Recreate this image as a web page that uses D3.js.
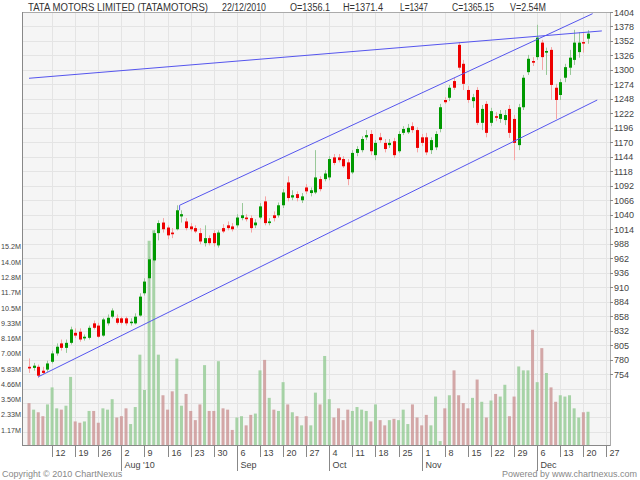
<!DOCTYPE html>
<html><head><meta charset="utf-8">
<script src="https://cdn.jsdelivr.net/npm/d3@7/dist/d3.min.js"></script>
<style>body{margin:0;background:#fff}svg text{font-family:"Liberation Sans",Arial,sans-serif}</style>
</head><body><svg id="c" width="640" height="480"></svg>
<script>
const open =[767,765,767,760,762,776,791,809,801,810,828,830,818,819,845,841,823,845,857,854,854,854,846,845,859,899,926,958,1007,1026,1017,1008,1014,1037,1028,1019,1016,1007,989,998,1007,985,1016,1021,1019,1021,1034,1035,1034,1021,1035,1064,1025,1039,1039,1057,1098,1071,1077,1066,1089,1079,1080,1104,1104,1107,1143,1143,1140,1134,1116,1151,1156,1179,1185,1147,1179,1169,1165,1172,1154,1187,1188,1199,1192,1179,1179,1156,1161,1194,1246,1250,1280,1345,1311,1264,1244,1264,1205,1239,1205,1217,1212,1210,1230,1212,1165,1233,1296,1316,1323,1349,1331,1336,1268,1255,1286,1304,1318,1332,1350,1356.1];
const high =[782,774,771,767,778,796,809,816,816,839,836,836,825,841,850,846,855,861,872,861,857,857,854,863,899,926,965,1012,1030,1034,1021,1016,1057,1048,1034,1025,1021,1016,1021,1003,1012,1012,1023,1028,1025,1041,1061,1041,1039,1032,1061,1073,1034,1046,1062,1086,1109,1084,1082,1079,1095,1089,1156,1109,1120,1145,1149,1149,1145,1140,1156,1163,1181,1192,1192,1174,1187,1176,1176,1178,1190,1199,1203,1206,1197,1185,1187,1179,1190,1239,1251,1273,1286,1350,1318,1271,1257,1269,1237,1244,1232,1224,1228,1228,1237,1219,1239,1291,1327,1323,1381,1354,1340,1341,1275,1284,1311,1336,1372,1368,1367,1371.4];
const low  =[756,760,747,753,758,773,787,796,792,807,819,812,814,816,834,819,821,841,854,843,843,841,841,843,857,895,886,954,994,1008,996,998,1012,1026,1012,1010,1007,987,983,985,983,981,1007,1012,1010,1017,1030,1028,1008,1016,1032,1021,1021,1028,1035,1052,1064,1066,1064,1061,1077,1073,1077,1082,1100,1102,1129,1134,1124,1093,1113,1145,1152,1174,1147,1138,1169,1152,1160,1142,1151,1183,1185,1187,1152,1163,1147,1149,1156,1188,1239,1244,1264,1300,1264,1241,1232,1201,1192,1179,1199,1208,1205,1201,1178,1138,1156,1228,1291,1307,1318,1300,1291,1246,1212,1246,1278,1291,1309,1322,1331,1347];
const close=[764,769,751,756,773,791,803,801,810,834,823,816,821,837,837,821,852,855,868,846,846,845,848,857,893,920,960,1007,1025,1014,1003,1005,1048,1041,1016,1014,1010,992,998,989,989,1008,1010,1016,1014,1035,1039,1032,1016,1026,1055,1025,1028,1034,1057,1080,1070,1075,1070,1073,1082,1084,1107,1086,1114,1140,1133,1138,1127,1104,1151,1158,1176,1183,1154,1169,1174,1158,1169,1147,1185,1194,1196,1192,1160,1169,1152,1174,1185,1233,1242,1268,1268,1304,1275,1246,1251,1205,1230,1187,1226,1214,1221,1219,1187,1169,1233,1286,1320,1313,1358,1323,1334,1273,1246,1278,1305,1322,1349,1349,1349,1365.15];
const volume=[3.2,2.7,2.5,2.2,3.1,4.4,2.8,2.7,3.0,5.2,1.8,1.7,1.8,2.6,2.6,1.7,2.8,2.7,3.5,2.1,2.2,2.8,1.6,2.9,6.9,4.2,15.6,16.4,6.9,3.8,2.7,4.1,6.6,3.0,3.9,2.6,1.9,3.1,6.1,2.6,2.6,6.4,2.8,2.7,1.15,2.1,2.2,1.5,2.3,2.4,5.7,6.5,3.6,2.7,2.6,4.8,3.1,2.5,2.2,1.5,2.2,1.5,4.0,3.1,6.8,3.5,2.1,2.8,1.9,2.7,2.6,2.9,2.7,2.6,1.8,3.1,1.9,1.5,1.9,2.0,1.9,2.7,1.6,3.1,2.1,1.5,2.3,1.5,3.7,0.3,2.8,3.8,5.7,3.8,3.2,2.8,3.6,5.0,3.3,2.1,3.4,3.9,3.7,4.6,2.2,3.7,6.0,5.7,5.7,8.8,4.8,7.4,5.5,4.4,3.3,3.8,3.7,3.8,2.8,2.1,2.5,2.54];
const weekTicks=[{i:5,d:"12"},{i:10,d:"19"},{i:15,d:"26"},{i:20,d:"2",m:"Aug '10"},{i:25,d:"9"},{i:30,d:"16"},{i:35,d:"23"},{i:40,d:"30"},{i:45,d:"6",m:"Sep"},{i:50,d:"13"},{i:55,d:"20"},{i:60,d:"27"},{i:65,d:"4",m:"Oct"},{i:70,d:"11"},{i:75,d:"18"},{i:80,d:"25"},{i:85,d:"1",m:"Nov"},{i:90,d:"8"},{i:95,d:"15"},{i:100,d:"22"},{i:105,d:"29"},{i:110,d:"6",m:"Dec"},{i:115,d:"13"},{i:120,d:"20"},{i:125,d:"27"}];
const priceTicks=[754,780,806,832,858,884,910,936,962,988,1014,1040,1066,1092,1118,1144,1170,1196,1222,1248,1274,1300,1326,1352,1378,1404];
const priceLabels=["754","780","805","832","858","884","910","936","962","988","1014","1040","1066","1092","1118","1144","1170","1196","1222","1248","1274","1300","1326","1352","1378","1404"];
const volTicks=[1.17,2.33,3.50,4.66,5.83,7.00,8.16,9.33,10.5,11.7,12.8,14.0,15.2];
const volLabels=["1.17M","2.33M","3.50M","4.66M","5.83M","7.00M","8.16M","9.33M","10.5M","11.7M","12.8M","14.0M","15.2M"];
const trendLines=[[0,1285,124,1370],[32.6,1057,122,1401],[2,749,123,1246]];

const L=22,R=610,T=12,B=445;
const svg=d3.select("#c");
const x=d3.scaleLinear().domain([0,121]).range([29,588]);
const y=d3.scaleLinear().domain([626.6,1404]).range([B,T]);
const yv=d3.scaleLinear().domain([0,15.2]).range([B,246]);
svg.append("rect").attr("x",L).attr("y",T).attr("width",R-L).attr("height",B-T).attr("fill","#f5f5f5");
const grid=svg.append("g").attr("stroke","#e4e4e4").attr("stroke-width",1);
const gp=d3.range(650,1405,26);
grid.selectAll("line.h").data(gp).join("line").attr("x1",L).attr("x2",R).attr("y1",d=>Math.round(y(d))+.5).attr("y2",d=>Math.round(y(d))+.5);
grid.selectAll("line.v").data(weekTicks.filter(t=>x(t.i)<R)).join("line").attr("y1",T).attr("y2",B).attr("x1",d=>Math.round(x(d.i))+.5).attr("x2",d=>Math.round(x(d.i))+.5);
const n=close.length;
const up=i=>close[i]>=open[i];
svg.append("g").selectAll("rect").data(volume).join("rect")
 .attr("x",(d,i)=>x(i)-1.5).attr("width",3).attr("y",d=>yv(d)).attr("height",d=>B-yv(d))
 .attr("fill",(d,i)=>up(i)?"#99cc99":"#cc9999").attr("opacity",0.85);
const cg=svg.append("g");
const idx=d3.range(n);
cg.selectAll("line").data(idx).join("line").attr("x1",i=>Math.round(x(i))+.5).attr("x2",i=>Math.round(x(i))+.5)
 .attr("y1",i=>y(high[i])).attr("y2",i=>y(low[i])).attr("stroke",i=>up(i)?"#99c899":"#f5a5a5").attr("stroke-width",1);
cg.selectAll("rect").data(idx).join("rect").attr("x",i=>Math.round(x(i))-1).attr("width",3)
 .attr("y",i=>y(Math.max(open[i],close[i]))).attr("height",i=>Math.max(1.5,Math.abs(y(open[i])-y(close[i]))))
 .attr("fill",i=>up(i)?"#009900":"#ee0000");
svg.append("defs").append("clipPath").attr("id","cp").append("rect").attr("x",L).attr("y",T).attr("width",R-L).attr("height",B-T);
svg.append("g").attr("clip-path","url(#cp)").selectAll("line").data(trendLines).join("line")
 .attr("x1",d=>x(d[0])).attr("y1",d=>y(d[1])).attr("x2",d=>x(d[2])).attr("y2",d=>y(d[3])).attr("stroke","#5555ee").attr("stroke-width",1);
svg.append("line").attr("x1",x(32.6)).attr("x2",x(32.6)).attr("y1",y(1057)).attr("y2",y(1048)).attr("stroke","#5555ee");
svg.append("rect").attr("x",L+.5).attr("y",T+.5).attr("width",R-L).attr("height",B-T).attr("fill","none").attr("stroke","#aaa");
svg.append("line").attr("x1",L).attr("x2",R).attr("y1",B+.5).attr("y2",B+.5).attr("stroke","#888");
svg.append("line").attr("x1",L+.5).attr("x2",L+.5).attr("y1",T).attr("y2",B).attr("stroke","#888");
const tc="#444";
svg.append("g").selectAll("text").data(priceTicks).join("text").attr("x",R+4).attr("y",d=>y(d)+3.5)
 .attr("font-size",9).attr("fill",tc).text((d,i)=>priceLabels[i]);
svg.append("g").selectAll("line").data(priceTicks).join("line").attr("x1",R).attr("x2",R+3).attr("y1",d=>Math.round(y(d))+.5).attr("y2",d=>Math.round(y(d))+.5).attr("stroke","#888");
svg.append("g").selectAll("text").data(volTicks).join("text").attr("x",1).attr("y",d=>yv(d)+3)
 .attr("font-size",8).attr("textLength",20).attr("lengthAdjust","spacingAndGlyphs").attr("fill",tc).text((d,i)=>volLabels[i]);
const xa=svg.append("g");
weekTicks.forEach(t=>{const px=Math.round(x(t.i))+.5;
 xa.append("line").attr("x1",px).attr("x2",px).attr("y1",B).attr("y2",t.m?B+26:B+12).attr("stroke","#888");
 xa.append("text").attr("x",px+3).attr("y",B+11).attr("font-size",9).attr("fill",tc).text(t.d);
 if(t.m) xa.append("text").attr("x",px+3).attr("y",B+23).attr("font-size",9).attr("fill",tc).text(t.m);});
const hdr=[["TATA MOTORS LIMITED (TATAMOTORS)",28,180],["22/12/2010",222,44],["O=1356.1",290,40],["H=1371.4",343,40],["L=1347",400,28],["C=1365.15",452,42],["V=2.54M",510,36]];
svg.append("g").selectAll("text").data(hdr).join("text").attr("x",d=>d[1]).attr("y",11).attr("font-size",10)
 .attr("textLength",d=>d[2]).attr("lengthAdjust","spacingAndGlyphs").attr("fill","#333").text(d=>d[0]);
svg.append("text").attr("x",2).attr("y",477).attr("font-size",9).attr("fill","#888").text("Copyright © 2010 ChartNexus");
svg.append("text").attr("x",637).attr("y",477).attr("text-anchor","end").attr("font-size",9).attr("fill","#888").text("Powered by www.chartnexus.com");
</script></body></html>
